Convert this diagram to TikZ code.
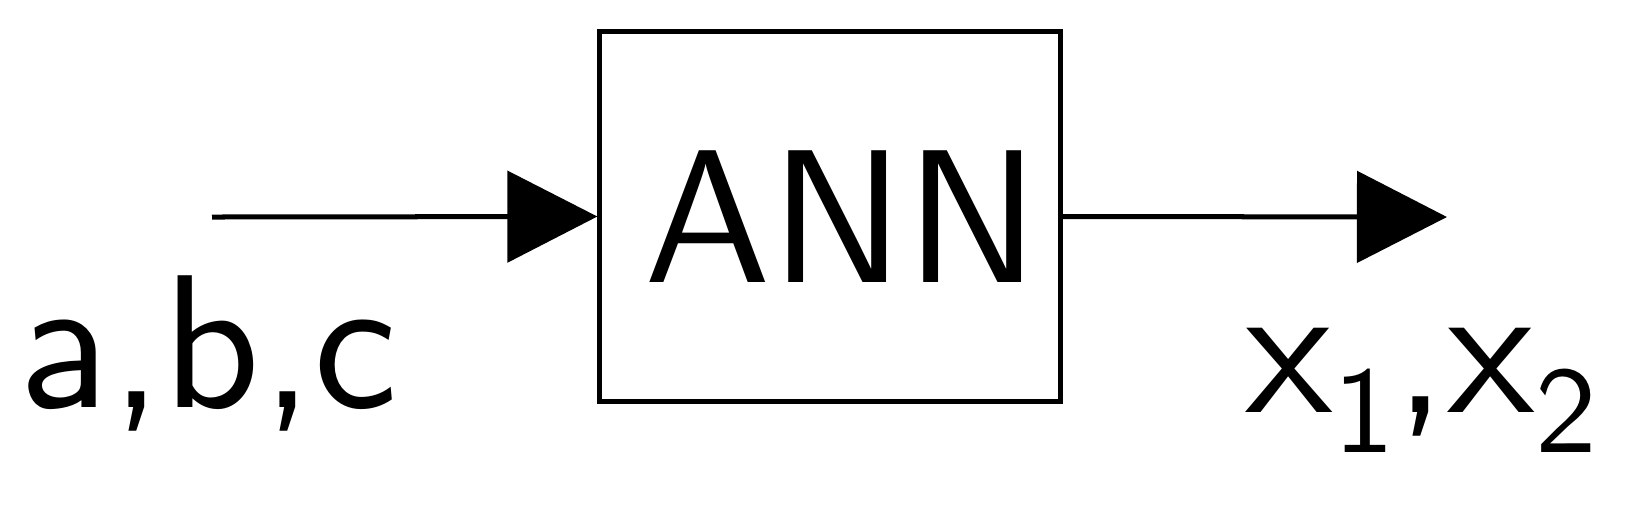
\documentclass[tikz,border=0pt]{standalone}
\usepackage{fontspec}
\newfontfamily\lmss[Extension=.otf]{lmsans10-regular}
\usetikzlibrary{arrows.meta}
\begin{document}
\begin{tikzpicture}[x=0.01cm,y=-0.01cm,
  wire/.style={line width=0.05cm,-{Triangle[length=0.9cm,width=0.91cm]}},
  block/.style={draw,line width=0.05cm,minimum width=4.6cm,minimum height=3.69cm,inner sep=0pt},
  lbl/.style={inner sep=0pt,anchor=base west,font=\lmss\fontsize{54}{60}\selectfont},
  sub/.style={}]
\useasboundingbox (0,0) rectangle (1632,514);
\node[block] (ann) at (830,216.5) {};
\node[inner sep=0pt,font=\lmss\fontsize{54}{60}\selectfont] (annt) at (842,216.5) {ANN};
\coordinate (in) at (212,217);
\coordinate (out) at (1447,217);
\draw[wire] (in) -- (ann.west);
\draw[wire] (ann.east) -- (out);
\node[lbl] (inl) at (18,407) {a,b,c};
\node[lbl] (outl) at (1245,412) {x\raisebox{-0.4cm}{\fontsize{35}{40}\selectfont 1},x\raisebox{-0.4cm}{\fontsize{35}{40}\selectfont 2}};
\end{tikzpicture}
\end{document}
